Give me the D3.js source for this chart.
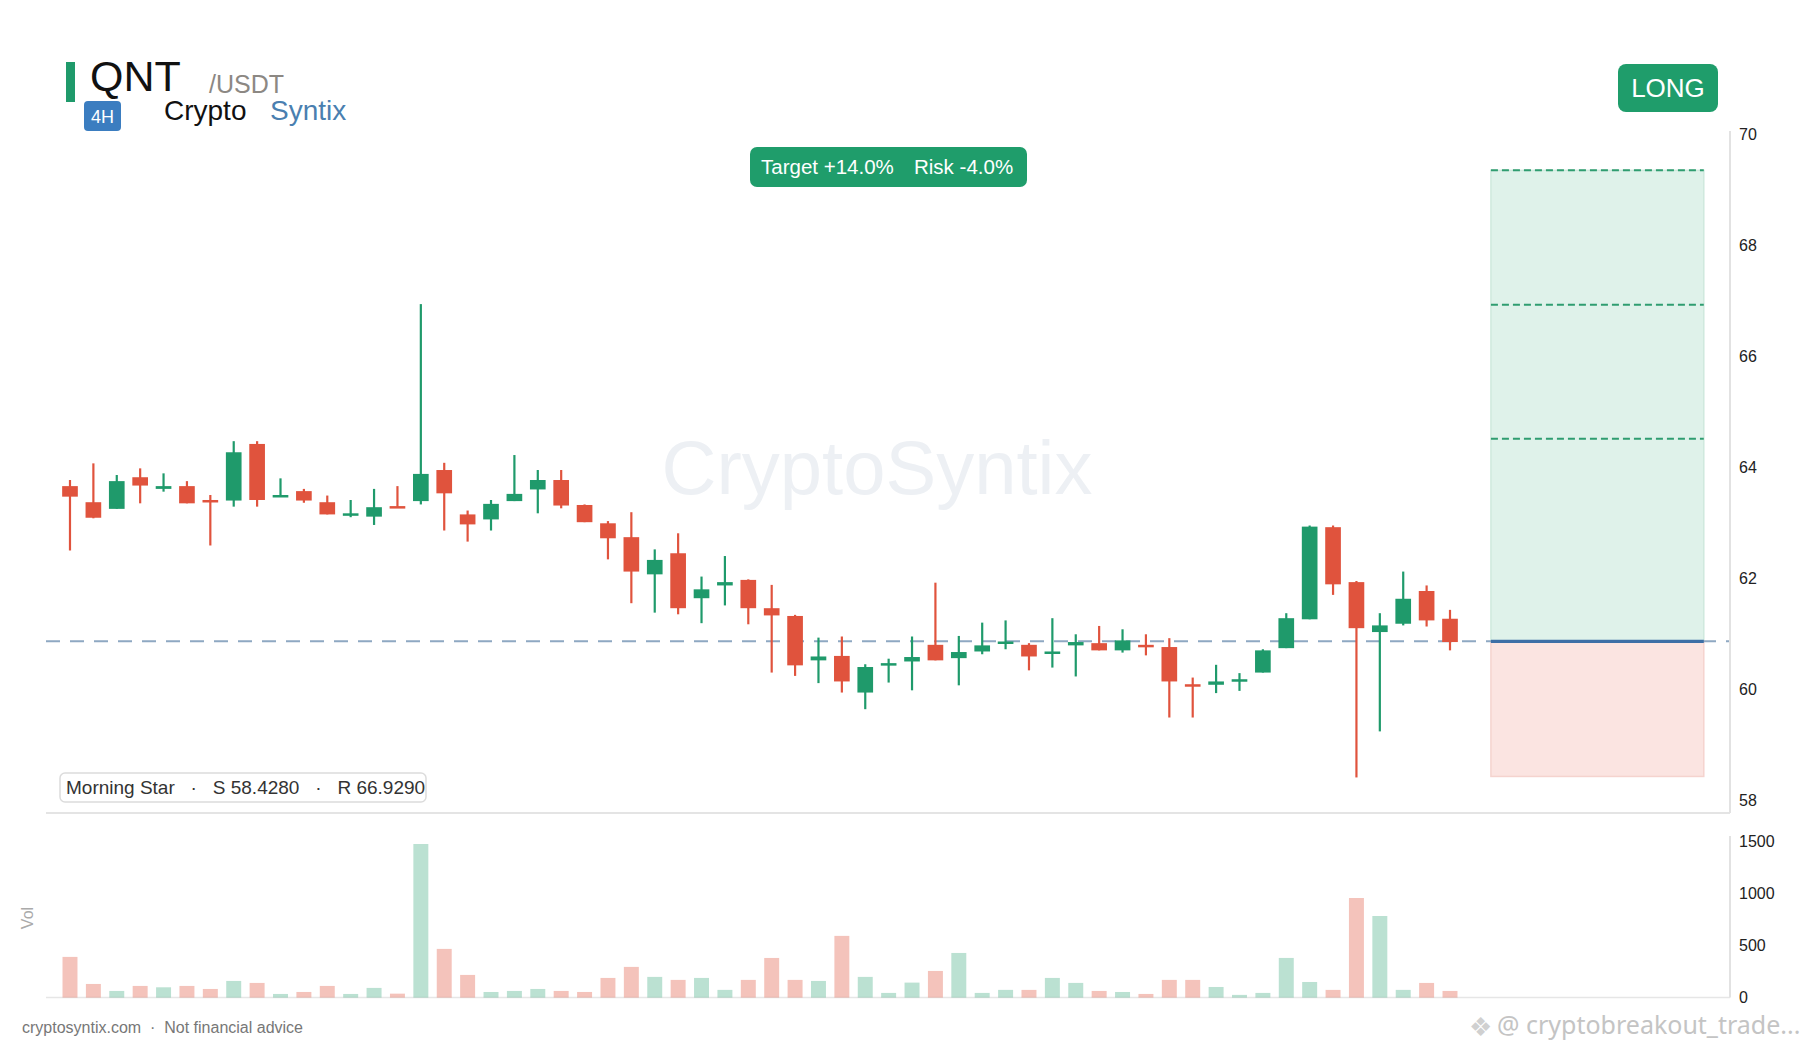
<!DOCTYPE html>
<html><head><meta charset="utf-8">
<script src="https://cdn.jsdelivr.net/npm/d3@7/dist/d3.min.js"></script>
<style>
html,body{margin:0;padding:0;background:#fff;}
svg{display:block;font-family:"Liberation Sans",Arial,Helvetica,sans-serif;}
.pre{white-space:pre;}
</style></head>
<body>
<svg id="c" width="1800" height="1050"></svg>
<script>
// ---- data ----
const symbol = "QNT";
const quote = "/USDT";
const timeframe = "4H";
const openP  = [63.66,63.37,63.25,63.82,63.61,63.66,63.41,63.40,64.42,63.47,63.57,63.37,63.14,63.11,63.30,63.39,63.95,63.15,63.06,63.39,63.60,63.77,63.32,62.99,62.74,62.07,62.45,61.64,61.87,61.97,61.46,61.32,60.52,60.60,59.94,60.43,60.50,60.80,60.56,60.68,60.84,60.80,60.64,60.79,60.83,60.70,60.80,60.76,60.09,60.08,60.15,60.30,60.74,61.26,62.92,61.93,61.03,61.18,61.77,61.27];
const highP  = [63.77,64.07,63.86,63.98,63.89,63.75,63.50,64.47,64.47,63.80,63.61,63.49,63.41,63.61,63.66,66.94,64.08,63.22,63.41,64.22,63.95,63.95,63.33,63.03,63.19,62.52,62.81,62.03,62.40,61.98,61.88,61.34,60.93,60.95,60.45,60.55,60.95,61.92,60.96,61.20,61.24,60.83,61.28,60.99,61.14,61.08,60.99,60.92,60.21,60.44,60.29,60.72,61.37,62.95,62.95,61.95,61.37,62.12,61.87,61.43];
const lowP   = [62.50,63.08,63.25,63.35,63.56,63.35,62.59,63.29,63.29,63.47,63.36,63.15,63.10,62.96,63.28,63.33,62.86,62.66,62.86,63.39,63.17,63.26,63.01,62.34,61.55,61.38,61.35,61.19,61.51,61.17,60.30,60.24,60.11,59.94,59.64,60.12,59.98,60.52,60.07,60.63,60.72,60.34,60.39,60.23,60.70,60.66,60.61,59.49,59.49,59.93,59.97,60.30,60.74,61.26,61.70,58.41,59.24,61.15,61.13,60.70];
const closeP = [63.47,63.09,63.75,63.67,63.66,63.35,63.39,64.27,63.41,63.50,63.40,63.15,63.17,63.28,63.28,63.88,63.53,62.97,63.34,63.52,63.77,63.31,63.01,62.72,62.12,62.33,61.46,61.80,61.93,61.46,61.33,60.43,60.59,60.14,60.40,60.47,60.58,60.52,60.67,60.79,60.86,60.59,60.68,60.85,60.70,60.88,60.77,60.14,60.06,60.14,60.18,60.70,61.28,62.93,61.89,61.10,61.15,61.63,61.24,60.85];
const volume = [391,131,64,112,99,112,83,160,141,35,54,112,35,93,38,1476,468,218,54,64,83,64,54,189,295,199,170,189,74,170,381,170,160,593,199,45,144,256,429,45,74,74,189,141,64,54,35,170,170,102,26,45,381,150,74,957,784,74,141,64];
const priceTicks = [58,60,62,64,66,68,70];
const volTicks = [0,500,1000,1500];
const entry = 60.8625;
const stopLoss = 58.428;
const targets = [64.514, 66.929, 69.35];
const patternLabel = "Morning Star   \u00B7   S 58.4280   \u00B7   R 66.9290";
const targetLabel = "Target +14.0%", riskLabel = "Risk -4.0%";
const footerLabel = "cryptosyntix.com  \u00B7  Not financial advice";

// ---- setup ----
const svg = d3.select("#c");
const GREEN = "#1f9a6b", RED = "#e0533d";
const n = openP.length;
const x = d3.scaleLinear().domain([-1, n + 12]).range([46.6, 46.6 + (n + 13) * 23.39]);
const xEnd = 1730;
const y = d3.scaleLinear().domain([58, 70]).range([800.2, 134.3]);
const vy = d3.scaleLinear().domain([0, 1500]).range([997.6, 841.5]);
const step = x(1) - x(0);
const bodyW = step * 0.67, volW = step * 0.64;

// watermark
svg.append("text").attr("x", 877).attr("y", 494).attr("text-anchor", "middle")
  .attr("font-size", 76).attr("fill", "#edf0f4").text("CryptoSyntix");

// panel borders
svg.append("line").attr("x1", 46).attr("x2", xEnd).attr("y1", 813).attr("y2", 813)
  .attr("stroke", "#e4e4e4").attr("stroke-width", 2);
svg.append("line").attr("x1", 46).attr("x2", xEnd).attr("y1", vy(0)).attr("y2", vy(0))
  .attr("stroke", "#e6e6e6").attr("stroke-width", 1.5);

// projection boxes
const bx0 = x(n - 1 + 1.75), bx1 = x(n - 1 + 10.85);
svg.append("rect").attr("x", bx0).attr("width", bx1 - bx0)
  .attr("y", y(targets[2])).attr("height", y(entry) - y(targets[2]))
  .attr("fill", "#dff2ea").attr("stroke", "#cfe9dd").attr("stroke-width", 1.5);
svg.append("rect").attr("x", bx0).attr("width", bx1 - bx0)
  .attr("y", y(entry)).attr("height", y(stopLoss) - y(entry))
  .attr("fill", "#fbe4e1").attr("stroke", "#f5d3ce").attr("stroke-width", 1.5);
targets.forEach(t => {
  svg.append("line").attr("x1", bx0).attr("x2", bx1).attr("y1", y(t)).attr("y2", y(t))
    .attr("stroke", "#2f9d70").attr("stroke-width", 2).attr("stroke-dasharray", "7,4");
});

// entry dashed line
svg.append("line").attr("x1", 46).attr("x2", xEnd).attr("y1", y(entry)).attr("y2", y(entry))
  .attr("stroke", "#8ea8c2").attr("stroke-width", 2).attr("stroke-dasharray", "14,10");
svg.append("line").attr("x1", bx0).attr("x2", bx1).attr("y1", y(entry)).attr("y2", y(entry))
  .attr("stroke", "#3d6fa6").attr("stroke-width", 3.2);

// candles
const idx = d3.range(n);
const g = svg.append("g");
g.selectAll("line.w").data(idx).join("line").attr("class", "w")
  .attr("x1", i => x(i)).attr("x2", i => x(i))
  .attr("y1", i => y(highP[i])).attr("y2", i => y(lowP[i]))
  .attr("stroke", i => closeP[i] >= openP[i] ? GREEN : RED).attr("stroke-width", 2.2);
g.selectAll("rect.b").data(idx).join("rect").attr("class", "b")
  .attr("x", i => x(i) - bodyW / 2).attr("width", bodyW)
  .attr("y", i => y(Math.max(openP[i], closeP[i])))
  .attr("height", i => Math.max(2.5, Math.abs(y(openP[i]) - y(closeP[i]))))
  .attr("fill", i => closeP[i] >= openP[i] ? GREEN : RED);

// volume
svg.append("g").selectAll("rect").data(idx).join("rect")
  .attr("x", i => x(i) - volW / 2).attr("width", volW)
  .attr("y", i => vy(volume[i])).attr("height", i => vy(0) - vy(volume[i]))
  .attr("fill", i => closeP[i] >= openP[i] ? GREEN : RED)
  .attr("fill-opacity", i => closeP[i] >= openP[i] ? 0.3 : 0.35);

// axes
const ya = svg.append("g").attr("transform", `translate(${xEnd},0)`)
  .call(d3.axisRight(y).tickValues(priceTicks).tickSize(0).tickPadding(9));
ya.select(".domain").remove();
ya.selectAll("text").attr("font-size", 16).attr("fill", "#222").attr("font-family", "Liberation Sans, Arial, sans-serif");
svg.append("line").attr("x1", xEnd).attr("x2", xEnd).attr("y1", 131).attr("y2", 813)
  .attr("stroke", "#e2e2e2").attr("stroke-width", 2);
const va = svg.append("g").attr("transform", `translate(${xEnd},0)`)
  .call(d3.axisRight(vy).tickValues(volTicks).tickFormat(d3.format("d")).tickSize(0).tickPadding(9));
va.select(".domain").remove();
va.selectAll("text").attr("font-size", 16).attr("fill", "#222").attr("font-family", "Liberation Sans, Arial, sans-serif");
svg.append("line").attr("x1", xEnd).attr("x2", xEnd).attr("y1", 836).attr("y2", vy(0))
  .attr("stroke", "#e2e2e2").attr("stroke-width", 2);

svg.append("text").attr("transform", "translate(33,918) rotate(-90)")
  .attr("text-anchor", "middle").attr("font-size", 16).attr("fill", "#aaa").text("Vol");

// header
svg.append("rect").attr("x", 66).attr("y", 62).attr("width", 9).attr("height", 40).attr("fill", GREEN);
svg.append("text").attr("x", 90).attr("y", 91).attr("font-size", 43).attr("fill", "#111").text(symbol);
svg.append("text").attr("x", 209).attr("y", 93).attr("font-size", 25).attr("fill", "#8c8883").text(quote);
svg.append("rect").attr("x", 84).attr("y", 101).attr("width", 37).attr("height", 30).attr("rx", 4).attr("fill", "#3b7dc0");
svg.append("text").attr("x", 102.5).attr("y", 123).attr("text-anchor", "middle").attr("font-size", 18).attr("fill", "#fff").text(timeframe);
svg.append("text").attr("x", 164).attr("y", 120).attr("font-size", 28).attr("fill", "#111").text("Crypto");
svg.append("text").attr("x", 270).attr("y", 120).attr("font-size", 28).attr("fill", "#4a7fb0").text("Syntix");

// LONG badge
svg.append("rect").attr("x", 1618).attr("y", 64).attr("width", 100).attr("height", 48).attr("rx", 8).attr("fill", "#1f9d6b");
svg.append("text").attr("x", 1668).attr("y", 97).attr("text-anchor", "middle").attr("font-size", 26).attr("fill", "#fff").text("LONG");

// target badge
svg.append("rect").attr("x", 750).attr("y", 147).attr("width", 277).attr("height", 40).attr("rx", 7).attr("fill", "#1f9d6b");
const tt = svg.append("text").attr("x", 761).attr("y", 174).attr("font-size", 20.5).attr("fill", "#fff");
tt.append("tspan").text(targetLabel);
tt.append("tspan").attr("x", 914).text(riskLabel);

// pattern box
svg.append("rect").attr("x", 60).attr("y", 773).attr("width", 366).attr("height", 29).attr("rx", 5)
  .attr("fill", "#fff").attr("stroke", "#dcdcdc").attr("stroke-width", 1.5);
svg.append("text").attr("class", "pre").attr("x", 66).attr("y", 794).attr("font-size", 19).attr("fill", "#333").text(patternLabel);

// footer
svg.append("text").attr("class", "pre").attr("x", 22).attr("y", 1033).attr("font-size", 16).attr("fill", "#777")
  .text(footerLabel);
svg.append("text").attr("x", 1497).attr("y", 1034).attr("font-size", 25).attr("fill", "#c4c4c4")
  .attr("font-family", "Noto Sans, sans-serif").text("@ cryptobreakout_trade...");
svg.append("text").attr("x", 1480).attr("y", 1036).attr("text-anchor", "middle").attr("font-size", 26).attr("fill", "#d0d0d0").text("\u2756");
</script>
</body></html>
